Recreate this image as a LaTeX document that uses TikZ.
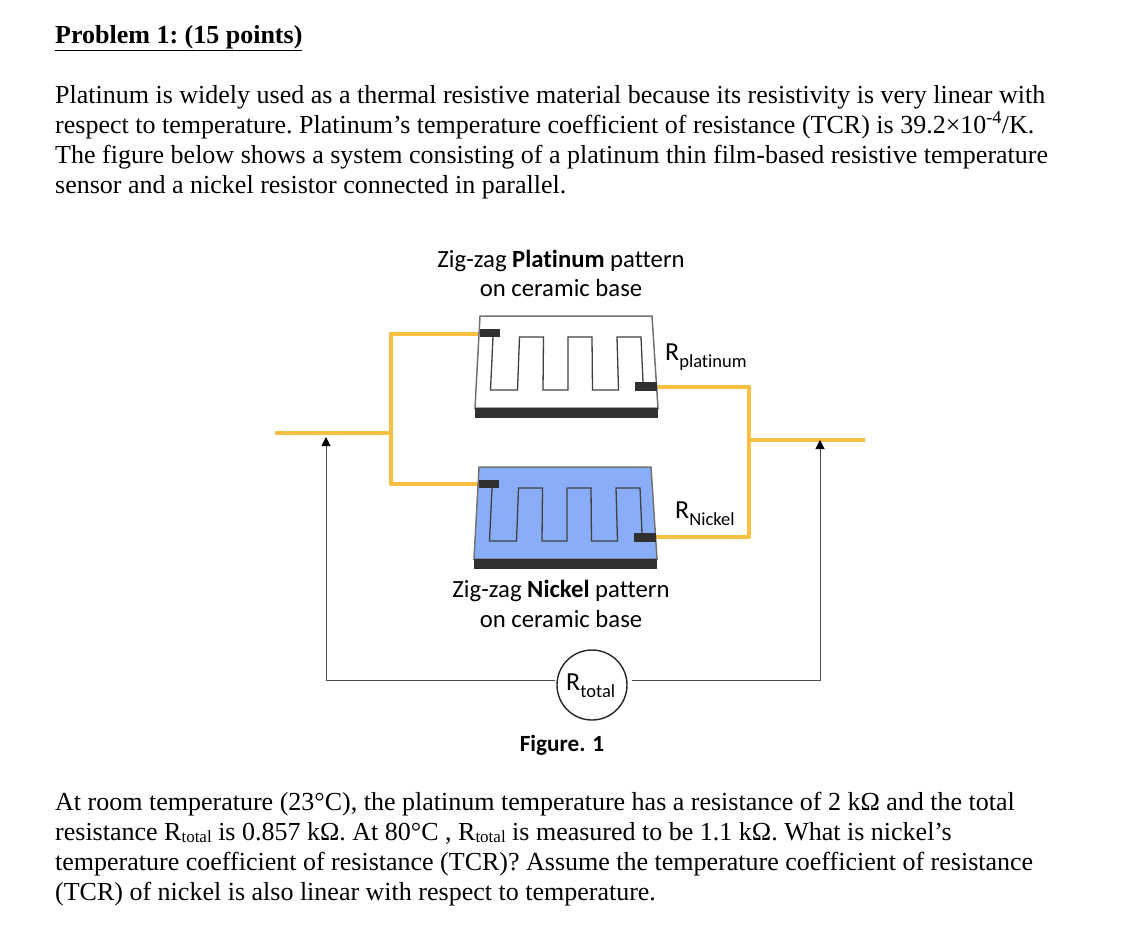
\documentclass[tikz,border=0pt]{standalone}
\usepackage{fontspec}
\setmainfont{Liberation Serif}
\newfontfamily\labelfont[Ligatures=NoCommon]{Carlito}
\usepackage{tikz}
\usetikzlibrary{arrows.meta}
\definecolor{wirecolor}{RGB}{248,192,66}
\definecolor{padcolor}{RGB}{48,48,48}
\definecolor{nickelcolor}{RGB}{137,174,247}
\newcommand{\sub}[1]{\raisebox{-0.25ex}{\fontsize{17}{20}\selectfont #1}}
\newcommand{\rsub}[1]{{\fontsize{26}{28}\selectfont R}\raisebox{-7pt}{\fontsize{18.5}{20}\selectfont #1}}
\tikzset{
	bodytext/.style={anchor=base west, inner sep=0pt, font=\frenchspacing\fontsize{26}{30}\selectfont},
	figtext/.style={anchor=base, inner sep=0pt, font=\labelfont\fontsize{24.7}{28}\selectfont},
	wire/.style={draw=wirecolor, line width=4pt},
	probe/.style={draw=black!70, line width=1pt},
	plate/.style={draw=black!55, line width=1.5pt},
	zigzag/.style={draw=black!75, line width=1.3pt},
	pad/.style={fill=padcolor, draw=none},
	probetip/.style={-{Triangle[length=9pt,width=9pt,color=black]}},
}
\newcommand{\sensor}[1]{%
	\path[plate, fill=#1] (480,316) -- (652,316) -- (658,408) -- (475,408) -- cycle;
	\fill[padcolor] (475,408) rectangle (658,418);
	\draw[zigzag] (493,337) -- (490.5,390) -- (517.5,390) -- (519.5,337) -- (543.5,337) -- (543,390)
		-- (568,390) -- (568,337) -- (592,337) -- (592.5,390) -- (618.5,390) -- (617,337) -- (641,337) -- (643,382);
}
\begin{document}
\begin{tikzpicture}[x=1pt, y=-1pt]
	\useasboundingbox (0,0) rectangle (1122,932);
	% heading and first paragraph
	\node[bodytext] (title) at (55,43) {\textbf{\underline{Problem 1: (15 points)}}};
	\node[bodytext] (line1) at (55,103) {Platinum is widely used as a thermal resistive material because its resistivity is very linear with};
	\node[bodytext] (line2) at (55,133) {respect to temperature. Platinum’s temperature coefficient of resistance (TCR) is 39.2×10\textsuperscript{-4}/K.};
	\node[bodytext] (line3) at (55,163) {The figure below shows a system consisting of a platinum thin film-based resistive temperature};
	\node[bodytext] (line4) at (55,193) {sensor and a nickel resistor connected in parallel.};
	% wires
	\coordinate (leftend) at (275,432.5);
	\coordinate (leftjoin) at (390.5,432.5);
	\coordinate (rightjoin) at (749,440);
	\coordinate (rightend) at (865,440);
	\coordinate (padAw) at (481,333.5);
	\coordinate (padBe) at (656,386.5);
	\coordinate (padCw) at (480,484);
	\coordinate (padDe) at (655,537);
	\draw[wire, line join=round] (padAw) -| (leftjoin) |- (padCw);
	\draw[wire, line join=round] (padBe) -| (rightjoin) |- (padDe);
	\draw[wire] (leftend) -- (leftjoin);
	\draw[wire] (rightjoin) -- (rightend);
	% the two sensors
	\begin{scope}
		\sensor{white}
		\node[pad, minimum width=20pt, minimum height=8.5pt, inner sep=0pt] (padA) at (490,333) {};
		\node[pad, minimum width=22pt, minimum height=9pt, inner sep=0pt] (padB) at (646,386) {};
	\end{scope}
	\begin{scope}[shift={(-1,151)}]
		\sensor{nickelcolor}
		\node[pad, minimum width=20pt, minimum height=8.5pt, inner sep=0pt] (padC) at (490,333) {};
		\node[pad, minimum width=22pt, minimum height=9pt, inner sep=0pt] (padD) at (646,386) {};
	\end{scope}
	% meter
	\node[circle, draw=black!85, line width=1.4pt, minimum size=70pt, inner sep=0pt] (meter) at (592,685) {};
	\node[figtext, anchor=base west] (rtotal) at (566,690) {\rsub{total}};
	\coordinate (leftup) at (326,680);
	\coordinate (rightup) at (820,680);
	\coordinate (leftgap) at (555,680);
	\coordinate (rightgap) at (632,680);
	\coordinate (lefttip) at (326,437);
	\coordinate (righttip) at (820,440);
	\draw[probe, probetip] (leftgap) -- (leftup) -- (lefttip);
	\draw[probe, probetip] (rightgap) -- (rightup) -- (righttip);
	% labels
	\node[figtext] (ptlabelA) at (561,267) {Zig-zag \textbf{Platinum} pattern};
	\node[figtext] (ptlabelB) at (561,296) {on ceramic base};
	\node[figtext, anchor=base west] (rpt) at (665,360) {\rsub{platinum}};
	\node[figtext, anchor=base west] (rni) at (675,518) {\rsub{Nickel}};
	\node[figtext] (nilabelA) at (561,597) {Zig-zag \textbf{Nickel} pattern};
	\node[figtext] (nilabelB) at (561,627) {on ceramic base};
	\node[figtext, font=\labelfont\fontsize{23.2}{28}\selectfont] (figlabel) at (562,751) {\textbf{Figure. 1}};
	% second paragraph
	\node[bodytext] (line5) at (55,810) {At room temperature (23°C), the platinum temperature has a resistance of 2 kΩ and the total};
	\node[bodytext] (line6) at (55,840) {resistance R\sub{total} is 0.857 kΩ. At 80°C , R\sub{total} is measured to be 1.1 kΩ. What is nickel’s};
	\node[bodytext] (line7) at (55,870) {temperature coefficient of resistance (TCR)? Assume the temperature coefficient of resistance};
	\node[bodytext] (line8) at (55,900) {(TCR) of nickel is also linear with respect to temperature.};
\end{tikzpicture}
\end{document}
